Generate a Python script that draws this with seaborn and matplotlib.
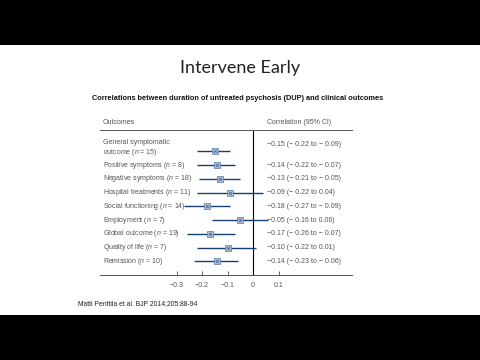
import numpy as np
import pandas as pd
import matplotlib
matplotlib.use("Agg")
import matplotlib.pyplot as plt
import seaborn as sns

# ── data ─────────────────────────────────────────────────────────────
outcomes = ["General symptomatic\noutcome", "Positive symptoms", "Negative symptoms",
            "Hospital treatments", "Social functioning", "Employment",
            "Global outcome", "Quality of life", "Remission"]
n_studies = [15, 8, 18, 11, 14, 7, 19, 7, 10]
corr = [-0.15, -0.14, -0.13, -0.09, -0.18, -0.05, -0.17, -0.10, -0.14]
ci_low = [-0.22, -0.22, -0.21, -0.22, -0.27, -0.16, -0.26, -0.22, -0.23]
ci_high = [-0.09, -0.07, -0.05, 0.04, -0.09, 0.06, -0.07, 0.01, -0.06]
xticks = [-0.3, -0.2, -0.1, 0, 0.1]

df = pd.DataFrame({"outcome": outcomes, "n": n_studies, "r": corr,
                   "lo": ci_low, "hi": ci_high})
df["row"] = np.arange(len(df))

sns.set_style("white")
plt.rcParams["font.family"] = ["Liberation Sans", "DejaVu Sans"]
plt.rcParams["mathtext.fontset"] = "custom"
plt.rcParams["mathtext.rm"] = "Liberation Sans"
plt.rcParams["mathtext.it"] = "Liberation Sans:italic"

fig = plt.figure(figsize=(4.8, 3.6), dpi=100, facecolor="black")
# white slide area between the black bands
bg = fig.add_axes([0, 45 / 360, 1, 270 / 360], zorder=-10)
bg.set_axis_off()
bg.add_patch(plt.Rectangle((0, 0), 1, 1, transform=bg.transAxes,
                           facecolor="white", edgecolor="none"))

fig.text(0.5, 1 - 68 / 360, "Intervene Early", family="Lato", fontsize=13,
         ha="center", va="center", color="#222222")
fig.text(92 / 480, 1 - 98 / 360,
         "Correlations between duration of untreated psychosis (DUP) and clinical outcomes",
         fontsize=5.3, fontweight="bold", ha="left", va="center", color="#111111")
fig.text(78 / 480, 1 - 304 / 360, "Matti Penttila et al. BJP 2014;205:88-94",
         fontsize=4.85, ha="left", va="center", color="#222222")

# forest plot axes
ax = fig.add_axes([100 / 480, 1 - 275 / 360, 252 / 480, 145 / 360])
ax.set_facecolor("none")
ax.set_xlim(-0.6, 0.388)
ax.set_ylim(8 + 1.0, -1.55)

ax.hlines(df["row"], df["lo"], df["hi"], color="#173f6e", lw=1.0, zorder=2)
sns.scatterplot(data=df, x="r", y="row", marker="s", s=14, color="#a9bad9",
                edgecolor="#5c7aa8", linewidth=0.5, ax=ax, zorder=3, legend=False)
sns.scatterplot(data=df, x="r", y="row", marker="x", s=4, color="#3b5a8a",
                linewidth=0.5, ax=ax, zorder=4, legend=False)
ax.axvline(0, color="black", lw=0.8, zorder=1)

for _, rec in df.iterrows():
    two = "\n" in rec["outcome"]
    lab = f"{rec['outcome']} ($\\it{{n}}$ = {rec['n']})"
    ax.text(0.012, rec["row"] - (0.2 if two else 0), lab,
            transform=ax.get_yaxis_transform(), fontsize=5.0, color="#555555",
            ha="left", va="center", linespacing=1.1)
    m = "\u2212"
    hi_s = f"{m} {abs(rec['hi']):.2f}" if rec["hi"] < 0 else f"{rec['hi']:.2f}"
    txt = f"{m}{abs(rec['r']):.2f} ({m} {abs(rec['lo']):.2f} to {hi_s})"
    ax.text(0.056, rec["row"] - (0.5 if two else 0), txt,
            fontsize=5.0, color="#555555", ha="left", va="center")

ax.text(0.012, -2.1, "Outcomes", transform=ax.get_yaxis_transform(),
        fontsize=5.0, color="#555555", ha="left", va="center", clip_on=False)
ax.text(0.056, -2.1, "Correlation (95% CI)", fontsize=5.0, color="#555555",
        ha="left", va="center", clip_on=False)

ax.set_xticks(xticks)
ax.set_xticklabels([("\u2212" + f"{abs(t):g}") if t < 0 else f"{t:g}" for t in xticks])
ax.set_yticks([])
ax.set_xlabel("")
ax.set_ylabel("")
ax.tick_params(axis="x", direction="in", length=3, width=0.6, pad=5,
               labelsize=5.0, labelcolor="#555555", color="#444444", bottom=True)
for side in ["left", "right"]:
    ax.spines[side].set_visible(False)
for side in ["top", "bottom"]:
    ax.spines[side].set_color("#555555")
    ax.spines[side].set_linewidth(0.7)

fig.savefig("out.png", dpi=100, facecolor="black")
